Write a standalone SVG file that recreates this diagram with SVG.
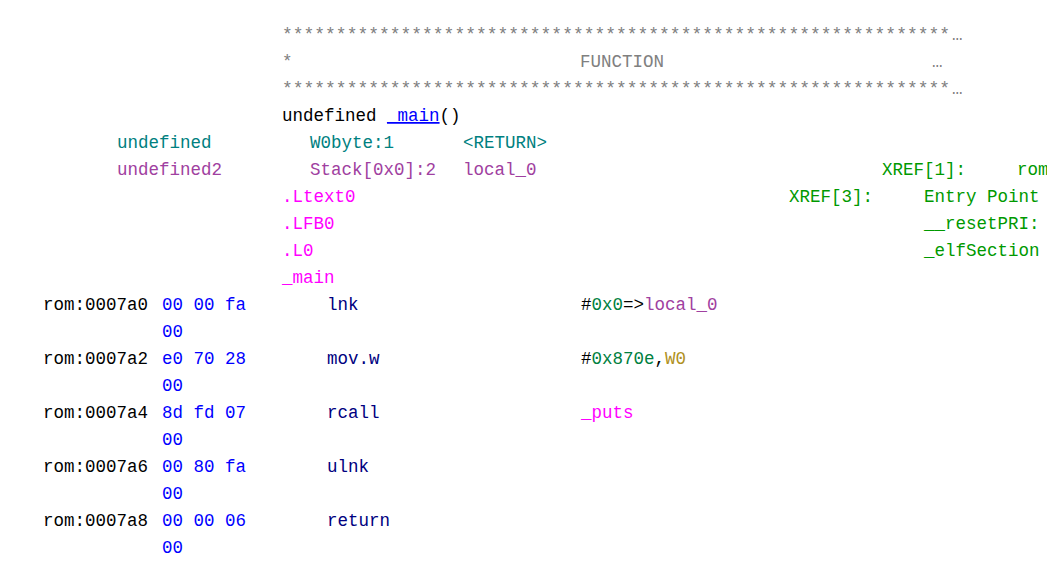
<svg xmlns="http://www.w3.org/2000/svg" width="1047" height="565" viewBox="0 0 1047 565">
<style>
text{font-family:"Liberation Mono","Courier New",monospace;font-size:17.5px;white-space:pre}
.g{fill:#808080}.k{fill:#000}.b{fill:#0000ff}.t{fill:#008080}.p{fill:#a040a0}.m{fill:#ff00ff}.x{fill:#009900}.n{fill:#000080}.gr{fill:#008040}.o{fill:#b09020}
</style>
<rect width="1047" height="565" fill="#fff"/>
<g id="header">
<text class="g" x="282" y="40" textLength="668" lengthAdjust="spacingAndGlyphs">**************************************************************</text>
<text class="g" x="952" y="40">…</text>
<text class="g" x="282" y="67">*</text>
<text class="g" x="580" y="67">FUNCTION</text>
<text class="g" x="932" y="67">…</text>
<text class="g" x="282" y="94" textLength="668" lengthAdjust="spacingAndGlyphs">**************************************************************</text>
<text class="g" x="952" y="94">…</text>
</g>
<g id="signature">
<text x="282" y="121"><tspan class="k">undefined </tspan><tspan class="b" text-decoration="underline">_main</tspan><tspan class="k">()</tspan></text>
<text class="t" x="117" y="148">undefined</text>
<text class="t" x="310" y="148">W0byte:1</text>
<text class="t" x="463" y="148">&lt;RETURN&gt;</text>
<text class="p" x="117" y="175">undefined2</text>
<text class="p" x="310" y="175">Stack[0x0]:2</text>
<text class="p" x="463" y="175">local_0</text>
<text class="x" x="882" y="175">XREF[1]:</text>
<text class="x" x="1017" y="175">rom</text>
</g>
<g id="labels">
<text class="m" x="282" y="202">.Ltext0</text>
<text class="x" x="789" y="202">XREF[3]:</text>
<text class="x" x="924" y="202">Entry Point</text>
<text class="m" x="282" y="229">.LFB0</text>
<text class="x" x="924" y="229">__resetPRI:</text>
<text class="m" x="282" y="256">.L0</text>
<text class="x" x="924" y="256">_elfSection</text>
<text class="m" x="282" y="283">_main</text>
</g>
<g id="instructions">
<text class="k" x="43" y="310">rom:0007a0</text><text class="b" x="162" y="310">00 00 fa</text><text class="b" x="162" y="337">00</text>
<text class="n" x="327" y="310">lnk</text>
<text x="581" y="310"><tspan class="k">#</tspan><tspan class="gr">0x0</tspan><tspan class="k">=&gt;</tspan><tspan class="p">local_0</tspan></text>
<text class="k" x="43" y="364">rom:0007a2</text><text class="b" x="162" y="364">e0 70 28</text><text class="b" x="162" y="391">00</text>
<text class="n" x="327" y="364">mov.w</text>
<text x="581" y="364"><tspan class="k">#</tspan><tspan class="gr">0x870e</tspan><tspan class="k">,</tspan><tspan class="o">W0</tspan></text>
<text class="k" x="43" y="418">rom:0007a4</text><text class="b" x="162" y="418">8d fd 07</text><text class="b" x="162" y="445">00</text>
<text class="n" x="327" y="418">rcall</text>
<text class="m" x="581" y="418">_puts</text>
<text class="k" x="43" y="472">rom:0007a6</text><text class="b" x="162" y="472">00 80 fa</text><text class="b" x="162" y="499">00</text>
<text class="n" x="327" y="472">ulnk</text>
<text class="k" x="43" y="526">rom:0007a8</text><text class="b" x="162" y="526">00 00 06</text><text class="b" x="162" y="553">00</text>
<text class="n" x="327" y="526">return</text>
</g>
<g id="connectors"/>
</svg>
